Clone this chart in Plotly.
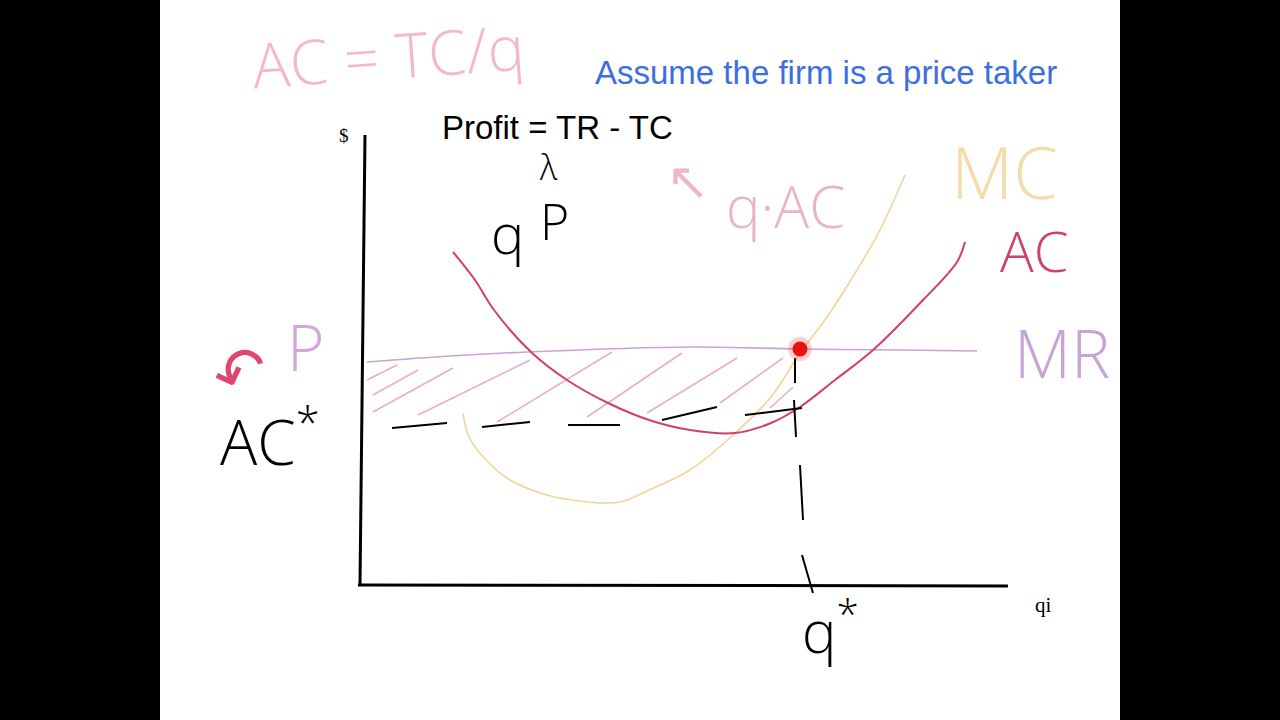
import plotly.graph_objects as go

# ---- data (q = quantity units, p = dollars) ----
ac_q = [1.40, 1.738, 2.031, 2.60, 3.154, 3.785, 4.415, 5.046, 5.738, 6.292, 6.738, 7.277, 7.862, 8.631, 9.154, 9.277]
ac_p = [7.40, 6.778, 6.111, 5.178, 4.556, 4.044, 3.667, 3.444, 3.378, 3.60, 3.956, 4.556, 5.222, 6.333, 7.178, 7.622]

mc_q = [1.554, 1.646, 1.908, 2.277, 2.846, 3.477, 3.969, 4.415, 5.046, 5.677, 6.292, 6.738, 7.154, 7.615, 7.969, 8.354]
mc_p = [3.822, 3.289, 2.778, 2.333, 2.00, 1.844, 1.844, 2.111, 2.556, 3.289, 4.178, 5.156, 5.956, 7.00, 7.889, 9.111]

mr_q = [0.077, 1.354, 2.538, 5.046, 6.738, 8.277, 9.462]
mr_p = [4.956, 5.089, 5.178, 5.289, 5.244, 5.222, 5.20]

opt_q = [6.738]
opt_p = [5.244]

yaxis_q = [0.046, -0.031]
yaxis_p = [10.0, 0.0]
xaxis_q = [-0.062, 9.938]
xaxis_p = [0.0, -0.02]

hatch_q0 = [0.077, 0.169, 0.169, 0.862, 2.077, 3.462, 4.385, 5.508, 6.277]
hatch_p0 = [4.556, 4.222, 3.844, 3.778, 3.622, 3.733, 3.822, 4.044, 3.933]
hatch_q1 = [0.538, 0.862, 1.400, 2.585, 3.846, 4.923, 5.769, 6.477, 6.631]
hatch_p1 = [4.889, 4.778, 4.822, 5.000, 5.178, 5.156, 5.044, 5.044, 4.400]

hdash_q0 = [0.462, 1.846, 3.169, 4.615, 5.892]
hdash_p0 = [3.489, 3.511, 3.556, 3.667, 3.778]
hdash_q1 = [1.308, 2.585, 3.969, 5.462, 6.769]
hdash_p1 = [3.600, 3.622, 3.556, 3.956, 3.933]

vdash_q0 = [6.662, 6.646, 6.738, 6.769]
vdash_p0 = [5.044, 4.111, 2.667, 0.667]
vdash_q1 = [6.662, 6.677, 6.785, 6.938]
vdash_p1 = [4.489, 3.289, 1.444, -0.178]


def segs(q0, p0, q1, p1):
    xs, ys = [], []
    for a, b, c, d in zip(q0, p0, q1, p1):
        xs += [a, c, None]
        ys += [b, d, None]
    return xs, ys


fig = go.Figure()

hx, hy = segs(hatch_q0, hatch_p0, hatch_q1, hatch_p1)
fig.add_trace(go.Scatter(x=hx, y=hy, mode="lines", line=dict(color="rgba(228,160,190,0.85)", width=1.6), hoverinfo="skip"))

fig.add_trace(go.Scatter(x=mr_q, y=mr_p, mode="lines", line=dict(color="#c9a3d4", width=1.6, shape="spline"), hoverinfo="skip"))
fig.add_trace(go.Scatter(x=mc_q, y=mc_p, mode="lines", line=dict(color="#f2d499", width=1.6, shape="spline"), hoverinfo="skip"))
fig.add_trace(go.Scatter(x=ac_q, y=ac_p, mode="lines", line=dict(color="#d1406a", width=2, shape="spline"), hoverinfo="skip"))

dx, dy = segs(hdash_q0, hdash_p0, hdash_q1, hdash_p1)
fig.add_trace(go.Scatter(x=dx, y=dy, mode="lines", line=dict(color="black", width=2), hoverinfo="skip"))
vx, vy = segs(vdash_q0, vdash_p0, vdash_q1, vdash_p1)
fig.add_trace(go.Scatter(x=vx, y=vy, mode="lines", line=dict(color="black", width=2), hoverinfo="skip"))

fig.add_trace(go.Scatter(x=yaxis_q, y=yaxis_p, mode="lines", line=dict(color="black", width=3), hoverinfo="skip"))
fig.add_trace(go.Scatter(x=xaxis_q, y=xaxis_p, mode="lines", line=dict(color="black", width=3), hoverinfo="skip"))

fig.add_trace(go.Scatter(x=opt_q, y=opt_p, mode="markers", marker=dict(color="rgba(255,60,60,0.25)", size=24, line=dict(width=0)), hoverinfo="skip"))
fig.add_trace(go.Scatter(x=opt_q, y=opt_p, mode="markers", marker=dict(color="#ec1111", size=15, line=dict(width=0)), hoverinfo="skip"))

HAND = "Open Sans"


def hand(text, x, y, size, color, angle=0):
    return dict(text=text, x=x, y=y, xref="x", yref="y", showarrow=False,
                font=dict(family=HAND, size=size, color=color, weight=300), textangle=angle)


annotations = [
    hand("AC = TC/q", 0.40, 11.78, 62, "#f3b9c7", -4),
    dict(text="Assume the firm is a price taker", x=7.138, y=11.4, xref="x", yref="y", showarrow=False,
         font=dict(family="Liberation Sans", size=33, color="#3c6ee0")),
    dict(text="Profit = TR - TC", x=3.0, y=10.156, xref="x", yref="y", showarrow=False,
         font=dict(family="Liberation Sans", size=33, color="black")),
    hand("λ", 2.862, 9.28, 34, "black"),
    hand("q", 2.246, 7.85, 56, "black"),
    hand("P", 2.969, 8.1, 50, "black"),
    hand("↖", 5.015, 9.044, 52, "#f0b6c6"),
    hand("q·AC", 6.508, 8.444, 58, "#eab3c8"),
    hand("MC", 9.892, 9.2, 72, "#f4dba8"),
    hand("AC", 10.338, 7.45, 56, "#d1406a"),
    hand("MR", 10.769, 5.178, 66, "#c9a3d4"),
    hand("P", -0.862, 5.3, 64, "#d2a6d8"),
    hand("↶", -1.877, 4.80, 64, "#e0476e", -20),
    hand("AC<sup>*</sup>", -1.415, 3.26, 62, "black"),
    hand("q<sup>*</sup>", 7.2, -0.95, 58, "black"),
    dict(text="$", x=-0.277, y=10.0, xref="x", yref="y", showarrow=False,
         font=dict(family="Liberation Serif", size=19, color="black")),
    dict(text="qi", x=10.477, y=-0.444, xref="x", yref="y", showarrow=False,
         font=dict(family="Liberation Serif", size=21, color="black")),
]

fig.update_layout(
    width=1280, height=720,
    margin=dict(l=0, r=0, t=0, b=0),
    paper_bgcolor="black", plot_bgcolor="white",
    showlegend=False,
    xaxis=dict(domain=[0.125, 0.875], range=[-3.1077, 11.6615], visible=False, fixedrange=True),
    yaxis=dict(domain=[0, 1], range=[-3.0, 13.0], visible=False, fixedrange=True),
    annotations=annotations,
)

fig.write_html("out.html", config={"displayModeBar": False},
               post_script="document.body.style.margin='0';document.body.style.overflow='hidden';")
